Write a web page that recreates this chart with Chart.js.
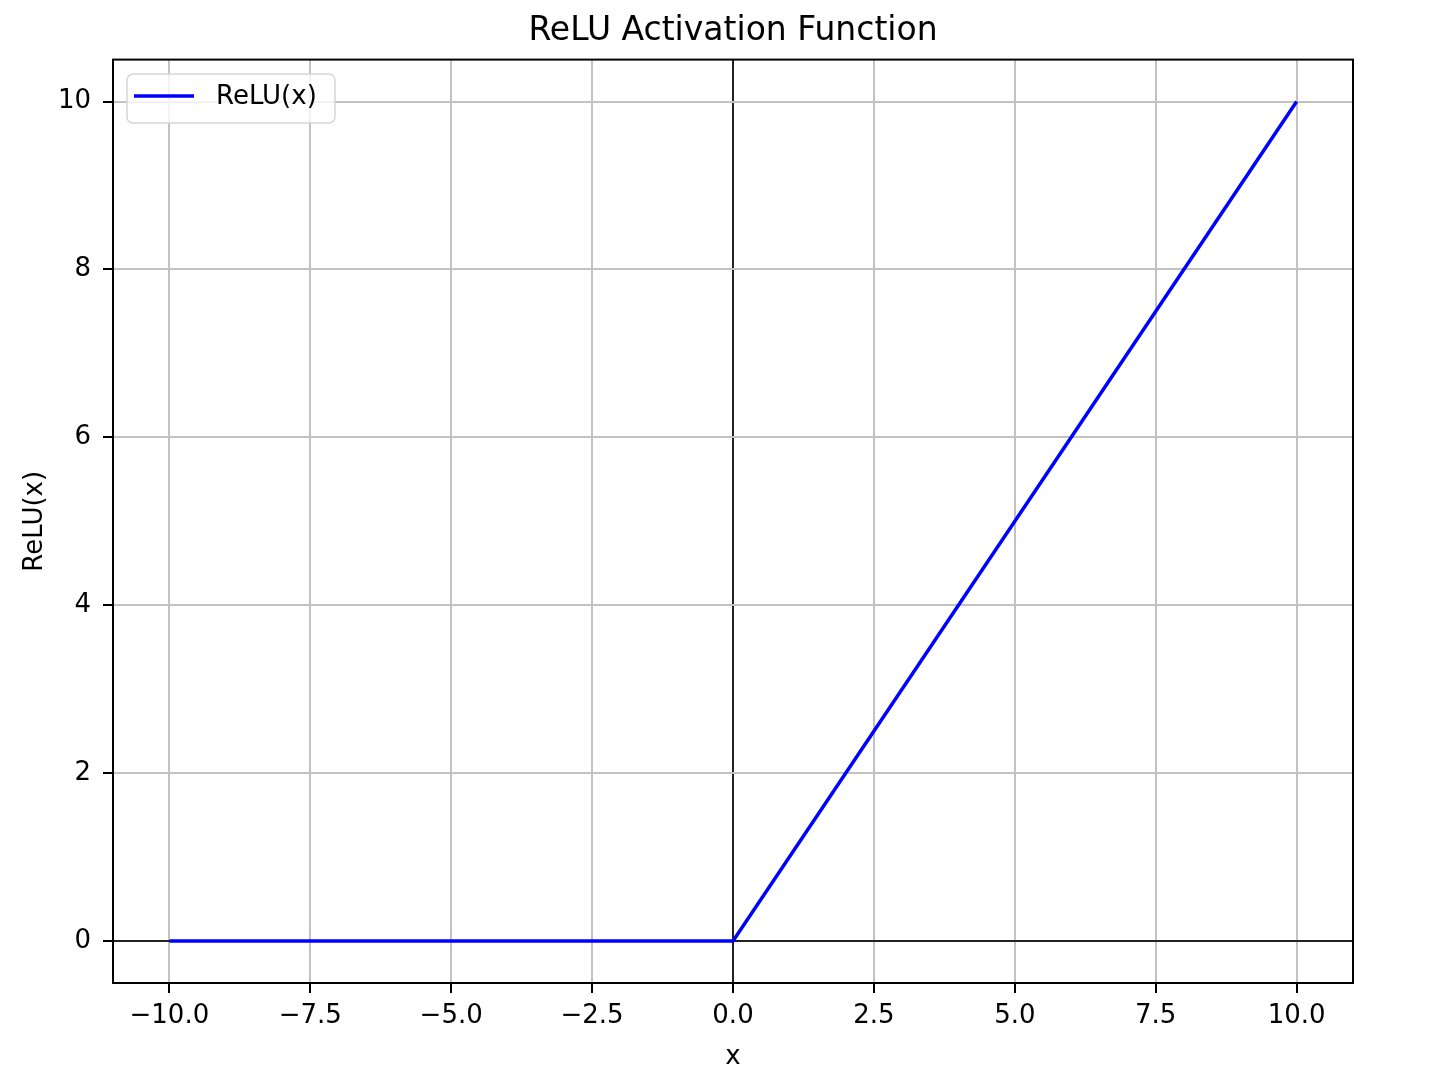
<!DOCTYPE html>
<html>
<head>
<meta charset="utf-8">
<title>ReLU Activation Function</title>
<script src="https://cdn.jsdelivr.net/npm/chart.js@4.4.1/dist/chart.umd.min.js"></script>
<style>
  html, body { margin: 0; padding: 0; background: #fff; }
  #wrap { width: 1436px; height: 1072px; }
</style>
</head>
<body>
<div id="wrap"><canvas id="grafikRelu" width="1436" height="1072"></canvas></div>
<script>
// Data
const xValues = [-10, 0, 10];
const reluValues = [0, 0, 10];
const xTicks = [-10, -7.5, -5, -2.5, 0, 2.5, 5, 7.5, 10];
const yTicks = [0, 2, 4, 6, 8, 10];

const FONT = "'DejaVu Sans', sans-serif";

// bingkai sumbu + legenda di dalam area grafik (gaya matplotlib)
const frameLegend = {
    id: 'frameLegend',
    afterDraw(chart) {
        const ctx = chart.ctx;
        const a = chart.chartArea;
        ctx.save();
        ctx.strokeStyle = '#000';
        ctx.lineWidth = 2;
        ctx.strokeRect(a.left, a.top, a.right - a.left, a.bottom - a.top);

        // kotak legenda
        const bx = 127, by = 74, bw = 208, bh = 49, r = 6;
        ctx.beginPath();
        ctx.roundRect(bx, by, bw, bh, r);
        ctx.fillStyle = 'rgba(255,255,255,0.8)';
        ctx.fill();
        ctx.strokeStyle = '#d6d6d6';
        ctx.lineWidth = 1.5;
        ctx.stroke();

        const ds = chart.data.datasets[0];
        ctx.beginPath();
        ctx.moveTo(134, 96);
        ctx.lineTo(194, 96);
        ctx.strokeStyle = ds.borderColor;
        ctx.lineWidth = ds.borderWidth;
        ctx.stroke();

        ctx.fillStyle = '#000';
        ctx.font = '26px ' + FONT;
        ctx.textBaseline = 'middle';
        ctx.textAlign = 'left';
        ctx.fillText(ds.label, 216, 97);
        ctx.restore();
    }
};

const warnaGrid = function(context) {
    return context.tick && context.tick.value === 0 ? '#222' : '#c2c2c2';
};

let chartRelu = new Chart(document.getElementById('grafikRelu').getContext('2d'), {
    type: 'line',
    data: {
        datasets: [{
            label: 'ReLU(x)',
            data: xValues.map((x, i) => ({ x: x, y: reluValues[i] })),
            borderColor: '#0000ff',
            backgroundColor: '#0000ff',
            borderWidth: 3.5,
            pointRadius: 0,
            tension: 0,
            fill: false
        }]
    },
    options: {
        responsive: false,
        animation: false,
        devicePixelRatio: 1,
        layout: { padding: { left: 0, right: 83, top: 0, bottom: 0 } },
        scales: {
            x: {
                type: 'linear',
                min: -11,
                max: 11,
                afterBuildTicks: function(scale) {
                    scale.ticks = xTicks.map(v => ({ value: v }));
                },
                afterFit: function(scale) {
                    scale.height = 89;
                },
                ticks: {
                    color: '#000',
                    font: { family: FONT, size: 26 },
                    padding: 8,
                    maxRotation: 0,
                    autoSkip: false,
                    callback: function(value) {
                        return value.toFixed(1).replace('-', '\u2212');
                    }
                },
                grid: {
                    color: warnaGrid,
                    lineWidth: 2,
                    drawTicks: true,
                    tickLength: 10,
                    tickColor: '#000',
                    tickWidth: 2
                },
                border: { display: false },
                title: {
                    display: true,
                    text: 'x',
                    color: '#000',
                    font: { family: FONT, size: 26, lineHeight: 1 },
                    padding: { top: 2, bottom: 2 }
                }
            },
            y: {
                type: 'linear',
                min: -0.5,
                max: 10.5,
                afterBuildTicks: function(scale) {
                    scale.ticks = yTicks.map(v => ({ value: v }));
                },
                afterFit: function(scale) {
                    scale.width = 113;
                },
                ticks: {
                    color: '#000',
                    font: { family: FONT, size: 26 },
                    padding: 12,
                    autoSkip: false,
                    callback: function(value) {
                        return value;
                    }
                },
                grid: {
                    color: warnaGrid,
                    lineWidth: 2,
                    drawTicks: true,
                    tickLength: 10,
                    tickColor: '#000',
                    tickWidth: 2
                },
                border: { display: false },
                title: {
                    display: true,
                    text: 'ReLU(x)',
                    color: '#000',
                    font: { family: FONT, size: 26 },
                    padding: { top: 20, bottom: 20 }
                }
            }
        },
        plugins: {
            legend: { display: false },
            tooltip: { enabled: false },
            title: {
                display: true,
                fullSize: false,
                text: 'ReLU Activation Function',
                color: '#000',
                font: { family: FONT, size: 33, weight: 'normal' },
                padding: { top: 12, bottom: 8 }
            }
        }
    },
    plugins: [frameLegend]
});
</script>
</body>
</html>
